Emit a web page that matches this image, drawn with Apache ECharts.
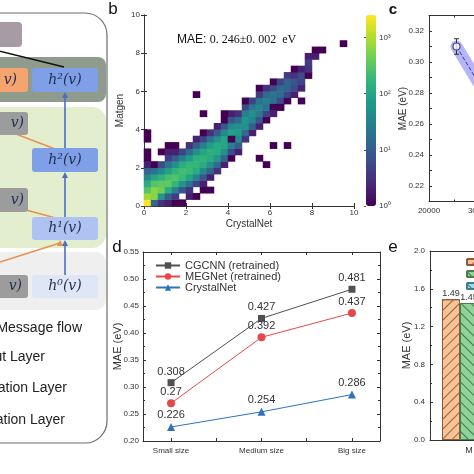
<!DOCTYPE html>
<html><head><meta charset="utf-8">
<script src="https://cdn.jsdelivr.net/npm/echarts@6/dist/echarts.min.js"></script>
<style>html,body{margin:0;padding:0;background:#fff}#c{width:474px;height:474px}</style>
</head><body><div id="c"></div><script>
// ---------- panel b : 2D histogram (bins of 1/3 eV), counts per bin ----------
const hmBins = Array.from({length: 30}, (_, i) => String(i));
// [xBin, firstYBin, counts from firstYBin upward]
const heatColumns = [
  [0, 0, [2500, 800, 300, 120, 40, 12, 2, 1, 1, 0, 1, 1]],
  [1, 0, [12, 600, 600, 300, 100, 20, 1]],
  [2, 0, [3, 60, 450, 350, 150, 40, 6, 0, 1]],
  [3, 0, [2, 10, 120, 350, 250, 90, 20, 4, 2, 1]],
  [4, 0, [1, 4, 30, 180, 280, 160, 50, 10, 2, 1]],
  [5, 0, [1, 0, 8, 60, 200, 230, 120, 30, 5]],
  [6, 1, [2, 3, 20, 100, 200, 180, 70, 15, 3]],
  [7, 1, [1, 0, 5, 30, 120, 180, 140, 50, 10, 2]],
  [8, 2, [1, 2, 8, 40, 120, 160, 100, 30, 5, 1]],
  [9, 2, [1, 0, 2, 12, 50, 120, 140, 80, 20, 3]],
  [10, 5, [3, 15, 60, 120, 110, 50, 10, 2]],
  [11, 6, [2, 12, 50, 100, 100, 40, 8, 1]],
  [12, 7, [1, 6, 30, 80, 90, 40, 8, 2]],
  [13, 8, [2, 10, 40, 70, 50, 15, 3]],
  [14, 10, [3, 15, 50, 60, 30, 6, 1]],
  [15, 11, [2, 10, 35, 50, 25, 5]],
  [16, 12, [2, 8, 25, 35, 20, 4, 1]],
  [17, 13, [1, 5, 20, 30, 15, 3]],
  [18, 14, [2, 8, 20, 20, 6, 1]],
  [19, 15, [2, 6, 15, 15, 5]],
  [20, 16, [1, 5, 12, 12, 4]],
  [21, 17, [2, 6, 8, 3, 1]],
  [22, 18, [2, 5, 6, 2]],
  [23, 20, [1, 3, 4, 2]],
  [24, 23, [2, 1]],
  [25, 24, [1]]
];
const heatIsolated = [[7,17,1],[8,14,1],[11,14,1],[12,10,1],[18,9,1],[20,9,1],[16,7,1],[17,6,1],[18,15,1],[19,15,1],[22,16,1],[28,25,1]];
const colorbarLabels = {1: '10\u2070', 10: '10\u00b9', 100: '10\u00b2', 1000: '10\u00b3'};

// ---------- panel c ----------
const cX = [25500, 30000];
const cMAE = [0.310, 0.286];
const cErr = [[25500, 0.305, 0.315]];

// ---------- panel d ----------
const dCategories = {1: 'Small size', 2: 'Medium size', 3: 'Big size'};
const dX = [1, 2, 3];
const cgcnn = [0.308, 0.427, 0.481];
const megnet = [0.27, 0.392, 0.437];
const crystalnet = [0.226, 0.254, 0.286];

// ---------- panel e ----------
const eCategories = ['M'];
const eOrange = [1.49];
const eGreen = [1.45];
const eCyan = [1.30];

const hmData = [];
heatColumns.forEach(([xb, y0, counts]) => counts.forEach((c, k) => { if (c > 0) hmData.push([xb, y0 + k, Math.log10(c)]); }));
heatIsolated.forEach(([xb, yb, c]) => hmData.push([xb, yb, Math.log10(c)]));

const FONT = 'Liberation Sans';
const axLine = {show: true, lineStyle: {color: '#333', width: 1}};
const tickIn = {show: true, inside: true, length: 3, lineStyle: {color: '#333'}};
const lab = {color: '#333', fontSize: 8, fontFamily: FONT};
const noSplit = {show: false};

function box(x, y, w, h, fill, r) { return {type: 'rect', shape: {x, y, width: w, height: h, r: r || 3}, style: {fill}}; }
function txt(x, y, t, font, fill, align) { return {type: 'text', x, y, style: {text: t, font, fill: fill || '#1f2d50', align: align || 'center', textAlign: align || 'center', verticalAlign: 'middle', textVerticalAlign: 'middle'}}; }
function ln(x1, y1, x2, y2, stroke, w) { return {type: 'line', shape: {x1, y1, x2, y2}, style: {stroke, lineWidth: w || 1.6}}; }
function head(x, y, color) { return {type: 'polygon', shape: {points: [[x, y], [x - 3, y + 6], [x + 3, y + 6]]}, style: {fill: color}}; }
const HF = 'italic 14px "DejaVu Serif"';
const BLUE = '#4a6fc4', ORNG = '#e8914f';

const graphic = [
  {type: 'rect', shape: {x: -40, y: 13, width: 147, height: 430, r: 22}, style: {fill: '#fff', stroke: '#6d6d6d', lineWidth: 1.2}},
  box(-10, 22, 32, 25, '#a79ba6', 4),
  {type: 'rect', shape: {x: -10, y: 57, width: 116, height: 45, r: [0, 8, 8, 0]}, style: {fill: '#8f9b8d'}},
  {type: 'rect', shape: {x: -10, y: 107, width: 116, height: 141, r: [0, 14, 14, 0]}, style: {fill: '#e2eecd'}},
  {type: 'rect', shape: {x: -10, y: 252, width: 116, height: 58, r: [0, 10, 10, 0]}, style: {fill: '#efefef'}},
  ln(-5, 50, 64, 67, '#111', 1.6),
  ln(0, 128, 63, 152, ORNG), ln(0, 203, 63, 220, ORNG), ln(0, 262, 60, 243, ORNG),
  box(-10, 68, 38, 24, '#f5a36f'), txt(17, 80, 'v)', HF, '#1f2d50', 'right'),
  box(32, 68, 66, 24, '#7fa0e6'), txt(65, 80, 'h\u00b2(v)', HF),
  box(-10, 112, 38, 23, '#9c9c9c'), txt(24, 123.5, 'v)', HF, '#1f2d50', 'right'),
  box(32, 148, 66, 24, '#7fa0e6'), txt(65, 160, 'h\u00b2(v)', HF),
  box(-10, 188, 38, 24, '#9c9c9c'), txt(24, 200, 'v)', HF, '#1f2d50', 'right'),
  box(32, 217, 66, 23, '#aec3f2'), txt(65, 228.5, 'h\u00b9(v)', HF),
  box(-10, 275, 38, 23, '#9c9c9c'), txt(22, 286.5, 'v)', HF, '#1f2d50', 'right'),
  box(32, 275, 66, 23, '#dfe6f5'), txt(65, 286.5, 'h\u2070(v)', HF),
  head(60, 240, ORNG),
  ln(65, 275, 65, 246, BLUE), head(65, 240, BLUE),
  ln(65, 217, 65, 178, BLUE), head(65, 172, BLUE),
  ln(65, 148, 65, 98, BLUE), head(65, 92, BLUE),
  txt(82, 328, 'Message flow', '14px "Liberation Sans"', '#222', 'right'),
  txt(45, 357, 'ut Layer', '14px "Liberation Sans"', '#222', 'right'),
  txt(67, 388, 'ation Layer', '14px "Liberation Sans"', '#222', 'right'),
  txt(65, 420, 'ation Layer', '14px "Liberation Sans"', '#222', 'right'),
  // panel letters
  txt(113, 9, 'b', '17px "Liberation Sans"', '#111'),
  txt(393, 10, 'c', 'bold 15px "Liberation Sans"', '#111'),
  txt(117, 247, 'd', '17px "Liberation Sans"', '#111'),
  txt(393, 247, 'e', '17px "Liberation Sans"', '#111'),
  {type: 'text', x: 177, y: 40, style: {text: '{a|MAE: }{b|0. 246\u00b10. 002  eV}', verticalAlign: 'middle', textVerticalAlign: 'middle',
    rich: {a: {fontFamily: FONT, fontSize: 12, fill: '#111', color: '#111'}, b: {fontFamily: 'Liberation Serif', fontSize: 12, fill: '#111', color: '#111'}}}}
];

const nameStyle = sz => ({fontFamily: FONT, fontSize: sz, color: '#333'});
const option = {
  animation: false,
  backgroundColor: '#fff',
  graphic: graphic,
  grid: [
    {left: 144, top: 15, width: 210, height: 191, outerBoundsMode: 'none'},
    {left: 144, top: 15, width: 210, height: 191, outerBoundsMode: 'none'},
    {left: 366, top: 15, width: 10, height: 191, outerBoundsMode: 'none'},
    {left: 429, top: 15.5, width: 250, height: 186, outerBoundsMode: 'none'},
    {left: 143, top: 252, width: 237, height: 189, outerBoundsMode: 'none'},
    {left: 430, top: 251, width: 78, height: 189, outerBoundsMode: 'none'}
  ],
  visualMap: {
    type: 'continuous', seriesIndex: 0, dimension: 2, min: 0, max: 3.4,
    left: 366, top: 15, itemWidth: 10, itemHeight: 191, padding: 0,
    calculable: false, hoverLink: false, text: null, show: true,
    inRange: {color: ['#440154', '#482878', '#3e4989', '#31688e', '#26828e', '#1f9e89', '#35b779', '#6ece58', '#b5de2b', '#fde725']}
  },
  legend: [
    {left: 155, top: 260, padding: 0, orient: 'vertical', itemWidth: 24, itemHeight: 8, itemGap: 0,
     textStyle: {fontFamily: FONT, fontSize: 11, color: '#333'},
     data: ['CGCNN (retrained)', 'MEGNet (retrained)', 'CrystalNet']},
    {left: 466, top: 258, padding: 0, orient: 'vertical', itemWidth: 14, itemHeight: 6, itemGap: 4,
     formatter: () => '', textStyle: {fontFamily: FONT, fontSize: 9, color: '#333'},
     data: ['MEGNet', 'CGCNN', 'Crystal']}
  ],
  xAxis: [
    {gridIndex: 0, type: 'category', data: hmBins, show: false},
    {gridIndex: 1, type: 'value', min: 0, max: 10, interval: 2, position: 'bottom', axisLine: axLine, axisTick: tickIn,
     axisLabel: Object.assign({margin: 3}, lab), splitLine: noSplit,
     name: 'CrystalNet', nameLocation: 'middle', nameGap: 13, nameMoveOverlap: false, nameTextStyle: nameStyle(10)},
    {gridIndex: 1, type: 'value', min: 0, max: 10, interval: 2, position: 'top', axisLine: axLine, axisTick: tickIn, axisLabel: {show: false}, splitLine: noSplit},
    {gridIndex: 2, type: 'value', show: false},
    {gridIndex: 3, type: 'value', min: 20000, max: 70000, interval: 10000, position: 'bottom', axisLine: axLine, axisTick: tickIn,
     minorTick: {show: true, splitNumber: 2, length: 2, lineStyle: {color: '#333'}}, axisLabel: Object.assign({margin: 5, formatter: v => String(v)}, lab), splitLine: noSplit},
    {gridIndex: 3, type: 'value', min: 20000, max: 70000, interval: 10000, position: 'top', axisLine: axLine, axisTick: tickIn,
     minorTick: {show: true, splitNumber: 2, length: 2, lineStyle: {color: '#333'}}, axisLabel: {show: false}, splitLine: noSplit},
    {gridIndex: 4, type: 'value', min: 0.69, max: 3.31, position: 'bottom', axisLine: axLine,
     axisTick: Object.assign({customValues: [1, 1.5, 2, 2.5, 3]}, tickIn),
     axisLabel: Object.assign({customValues: [1, 2, 3], margin: 6, formatter: v => dCategories[Math.round(v)] || ''}, lab), splitLine: noSplit},
    {gridIndex: 4, type: 'value', min: 0.69, max: 3.31, position: 'top', axisLine: axLine,
     axisTick: Object.assign({customValues: [1, 1.5, 2, 2.5, 3]}, tickIn), axisLabel: {show: false}, splitLine: noSplit},
    {gridIndex: 5, type: 'category', data: eCategories, position: 'bottom', axisLine: axLine, axisTick: {show: false},
     axisLabel: Object.assign({margin: 6}, lab, {fontSize: 9}), splitLine: noSplit},
    {gridIndex: 5, type: 'category', data: eCategories, position: 'top', axisLine: axLine, axisTick: {show: false}, axisLabel: {show: false}}
  ],
  yAxis: [
    {gridIndex: 0, type: 'category', data: hmBins, show: false},
    {gridIndex: 1, type: 'value', min: 0, max: 10, interval: 2, position: 'left', axisLine: axLine, axisTick: tickIn,
     axisLabel: Object.assign({margin: 4}, lab), splitLine: noSplit,
     name: 'Matgen', nameLocation: 'middle', nameGap: 19, nameMoveOverlap: false, nameTextStyle: nameStyle(10)},
    {gridIndex: 1, type: 'value', min: 0, max: 10, interval: 2, position: 'right', axisLine: axLine, axisTick: tickIn, axisLabel: {show: false}, splitLine: noSplit},
    {gridIndex: 2, type: 'log', logBase: 10, min: 1, max: 2512, position: 'right', axisLine: {show: false},
     axisTick: {show: true, inside: true, length: 2, lineStyle: {color: '#555'}},
     axisLabel: Object.assign({margin: 3, showMaxLabel: false, formatter: v => colorbarLabels[Math.round(v)] || ''}, lab), splitLine: noSplit},
    {gridIndex: 3, type: 'value', min: 0.21, max: 0.33, position: 'left', axisLine: axLine,
     axisTick: Object.assign({customValues: [0.22, 0.23, 0.24, 0.25, 0.26, 0.27, 0.28, 0.29, 0.30, 0.31, 0.32]}, tickIn),
     axisLabel: Object.assign({customValues: [0.22, 0.24, 0.26, 0.28, 0.30, 0.32], margin: 5, formatter: v => v.toFixed(2)}, lab), splitLine: noSplit,
     name: 'MAE (eV)', nameLocation: 'middle', nameGap: 21, nameMoveOverlap: false, nameTextStyle: nameStyle(10)},
    {gridIndex: 4, type: 'value', min: 0.2, max: 0.55, interval: 0.05, position: 'left', axisLine: axLine, axisTick: tickIn,
     minorTick: {show: true, splitNumber: 2, length: 2, lineStyle: {color: '#333'}},
     axisLabel: Object.assign({margin: 4, formatter: v => v.toFixed(2)}, lab), splitLine: noSplit,
     name: 'MAE (eV)', nameLocation: 'middle', nameGap: 20, nameMoveOverlap: false, nameTextStyle: nameStyle(11)},
    {gridIndex: 4, type: 'value', min: 0.2, max: 0.55, interval: 0.05, position: 'right', axisLine: axLine, axisTick: tickIn,
     minorTick: {show: true, splitNumber: 2, length: 2, lineStyle: {color: '#333'}}, axisLabel: {show: false}, splitLine: noSplit},
    {gridIndex: 5, type: 'value', min: 0, max: 2, interval: 0.4, position: 'left', axisLine: axLine, axisTick: tickIn,
     minorTick: {show: true, splitNumber: 2, length: 2, lineStyle: {color: '#333'}},
     axisLabel: Object.assign({margin: 5, formatter: v => v.toFixed(1)}, lab), splitLine: noSplit,
     name: 'MAE (eV)', nameLocation: 'middle', nameGap: 18, nameMoveOverlap: false, nameTextStyle: nameStyle(11)}
  ],
  series: [
    {type: 'heatmap', xAxisIndex: 0, yAxisIndex: 0, data: hmData, itemStyle: {borderWidth: 0}},
    {type: 'line', xAxisIndex: 4, yAxisIndex: 4, data: cX.map((x, i) => [x, cMAE[i]]), symbol: 'none',
     lineStyle: {width: 12, color: 'rgba(120,120,240,0.55)', cap: 'round'}, z: 1},
    {type: 'line', xAxisIndex: 4, yAxisIndex: 4, data: cX.map((x, i) => [x, cMAE[i]]), symbol: 'none',
     lineStyle: {width: 1, type: 'dashed', color: '#2b3aa8'}, z: 2},
    {type: 'custom', xAxisIndex: 4, yAxisIndex: 4, data: cErr, z: 3,
     renderItem: (params, api) => {
       const lo = api.coord([api.value(0), api.value(1)]), hi = api.coord([api.value(0), api.value(2)]);
       const st = {stroke: '#333', lineWidth: 1};
       return {type: 'group', children: [
         {type: 'line', shape: {x1: hi[0], y1: hi[1], x2: lo[0], y2: lo[1]}, style: st},
         {type: 'line', shape: {x1: hi[0] - 2.5, y1: hi[1], x2: hi[0] + 2.5, y2: hi[1]}, style: st},
         {type: 'line', shape: {x1: lo[0] - 2.5, y1: lo[1], x2: lo[0] + 2.5, y2: lo[1]}, style: st}]};
     }},
    {type: 'scatter', xAxisIndex: 4, yAxisIndex: 4, data: [[cX[0], cMAE[0]]], symbol: 'circle', symbolSize: 7,
     itemStyle: {color: '#fff', borderColor: '#2a2a6a', borderWidth: 1.2}, z: 4},
    {name: 'CGCNN (retrained)', type: 'line', xAxisIndex: 6, yAxisIndex: 5, data: dX.map((x, i) => [x, cgcnn[i]]),
     symbol: 'rect', symbolSize: 7, color: '#505050', lineStyle: {width: 1, color: '#505050'},
     label: {show: true, position: 'top', distance: 2, fontFamily: FONT, fontSize: 11, color: '#333', formatter: p => String(p.value[1])}},
    {name: 'MEGNet (retrained)', type: 'line', xAxisIndex: 6, yAxisIndex: 5, data: dX.map((x, i) => [x, megnet[i]]),
     symbol: 'circle', symbolSize: 8, color: '#e5484b', lineStyle: {width: 1, color: '#e5484b'},
     label: {show: true, position: 'top', distance: 2, fontFamily: FONT, fontSize: 11, color: '#333', formatter: p => String(p.value[1])}},
    {name: 'CrystalNet', type: 'line', xAxisIndex: 6, yAxisIndex: 5, data: dX.map((x, i) => [x, crystalnet[i]]),
     symbol: 'triangle', symbolSize: 8, color: '#2f72c0', lineStyle: {width: 1, color: '#2f72c0'},
     label: {show: true, position: 'top', distance: 2, fontFamily: FONT, fontSize: 11, color: '#333', formatter: p => String(p.value[1])}},
    {name: 'MEGNet', type: 'bar', xAxisIndex: 8, yAxisIndex: 7, data: eOrange, barWidth: 18, barGap: '0%',
     itemStyle: {color: '#f9c397', borderColor: '#8a5a3a', borderWidth: 1,
       decal: {symbol: 'rect', symbolSize: 1, rotation: -Math.PI / 4, dashArrayX: [1, 0], dashArrayY: [1, 6], color: 'rgba(120,70,30,0.75)'}},
     label: {show: true, position: 'top', distance: 1, fontFamily: FONT, fontSize: 9, color: '#333'}},
    {name: 'CGCNN', type: 'bar', xAxisIndex: 8, yAxisIndex: 7, data: eGreen, barWidth: 18, barGap: '0%',
     itemStyle: {color: '#8fd39b', borderColor: '#4b7d4f', borderWidth: 1,
       decal: {symbol: 'rect', symbolSize: 1, rotation: Math.PI / 4, dashArrayX: [1, 0], dashArrayY: [1, 6], color: 'rgba(40,90,50,0.75)'}},
     label: {show: true, position: 'top', distance: 1, fontFamily: FONT, fontSize: 9, color: '#333'}},
    {name: 'Crystal', type: 'bar', xAxisIndex: 8, yAxisIndex: 7, data: eCyan, barWidth: 18, barGap: '0%',
     itemStyle: {color: '#9fd8e6', borderColor: '#3f7d8a', borderWidth: 1,
       decal: {symbol: 'rect', symbolSize: 1, rotation: Math.PI / 4, dashArrayX: [1, 0], dashArrayY: [1, 6], color: 'rgba(40,80,90,0.75)'}},
     label: {show: true, position: 'top', distance: 1, fontFamily: FONT, fontSize: 9, color: '#333'}}
  ]
};
const chart = echarts.init(document.getElementById('c'), null, {renderer: 'canvas'});
chart.setOption(option);
</script></body></html>
